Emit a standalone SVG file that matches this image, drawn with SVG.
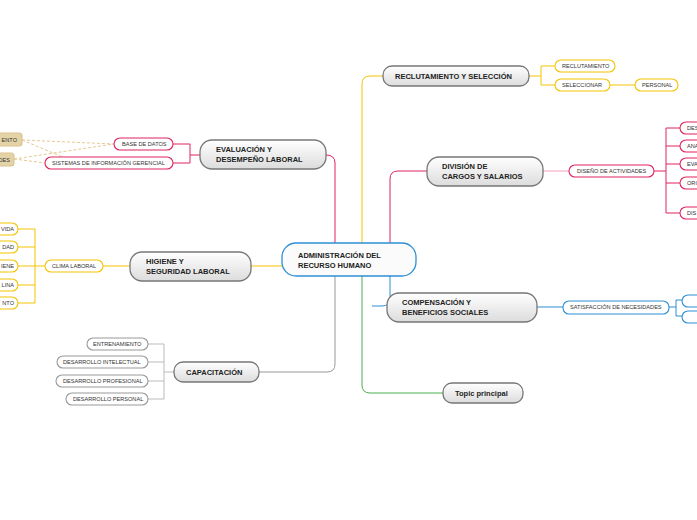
<svg xmlns="http://www.w3.org/2000/svg" width="697" height="520" viewBox="0 0 697 520">
<defs>
<linearGradient id="g" x1="0" y1="0" x2="0" y2="1"><stop offset="0" stop-color="#ffffff"/><stop offset="1" stop-color="#dcdcdc"/></linearGradient>
</defs>
<style>
text{font-family:"Liberation Sans",Arial,sans-serif;fill:#222}
.m rect{fill:url(#g);stroke:#777;stroke-width:1.3}
.m text{font-size:7.5px;font-weight:bold}
.s rect{fill:#fff;stroke-width:1.1}
.s text{font-size:5.6px;fill:#333}
.y rect{stroke:#f5c400}.p rect{stroke:#e0245e}.b rect{stroke:#2d8fd5}.k rect{stroke:#999}
.t rect{fill:#e5d3a8;stroke:#d9c38e}
.c path{fill:none;stroke-width:1}
</style>
<rect width="697" height="520" fill="#fff"/>
<g id="connectors" class="c">
<path d="M362 243 V84 Q362 76 370 76 H383" stroke="#f5c400" stroke-width="1.6"/>
<path d="M390 243 V179 Q390 171 398 171 H427" stroke="#e0245e" stroke-width="1.6"/>
<path d="M390 276 V298 Q390 306 382 306 H372 M390 306 H387" stroke="#2d8fd5" stroke-width="1.6"/>
<path d="M362 276 V385 Q362 393 370 393 H443" stroke="#4caf50" stroke-width="1.6"/>
<path d="M335 243 V163 Q335 155 326 155" stroke="#e0245e" stroke-width="2.2"/>
<path d="M282 266 H251" stroke="#f5c400" stroke-width="1.2"/>
<path d="M335 276 V364 Q335 372 327 372 H259" stroke="#999" stroke-width="2.2"/>
<path d="M529 76 H541 M541 66 V85 M541 66 H555 M541 85 H555 M610 85 H635" stroke="#f5c400"/>
<path d="M543 171 H569" stroke="#f3a0b8"/>
<path d="M654 171 H666 M666 128 V213 M666 128 H680 M666 146 H680 M666 164 H680 M666 183 H680 M666 213 H680" stroke="#e0245e"/>
<path d="M537 307 H563" stroke="#2d8fd5"/>
<path d="M669 307 H676 M676 300 V316 M676 300 H697 M676 316 H697" stroke="#2d8fd5"/>
<path d="M200 155 H190 M190 144 V163 M190 144 H173 M190 163 H173" stroke="#e0245e"/>
<path d="M22 140 L114 144 M14 159 L45 163 M22 140 L65 158 M14 159 L114 144" stroke="#e5c98f" stroke-dasharray="3,2"/>
<path d="M130 266 H103" stroke="#f5c400"/>
<path d="M45 266 H35 M35 229 V303 M35 229 H18 M35 247 H18 M35 266 H18 M35 285 H18 M35 303 H18" stroke="#f5c400"/>
<path d="M174 372 H164 M164 344 V399 M164 344 H148 M164 362 H148 M164 381 H148 M164 399 H148" stroke="#bbb"/>
</g>
<g id="center"><rect x="282" y="243" width="134" height="33" rx="14" fill="#fbfbfb" stroke="#2d8fd5" stroke-width="1.3"/><text x="298" y="258" font-size="7.5" font-weight="bold">ADMINISTRACIÓN DEL</text><text x="298" y="268" font-size="7.5" font-weight="bold">RECURSO HUMANO</text></g>
<g id="reclut" class="m"><rect x="383" y="66" width="146" height="20" rx="9"/><text x="395" y="79">RECLUTAMIENTO Y SELECCIÓN</text></g>
<g id="division" class="m"><rect x="427" y="157" width="116" height="29" rx="12"/><text x="442" y="169">DIVISIÓN DE</text><text x="442" y="179">CARGOS Y SALARIOS</text></g>
<g id="compens" class="m"><rect x="387" y="293" width="150" height="29" rx="12"/><text x="402" y="305">COMPENSACIÓN Y</text><text x="402" y="315">BENEFICIOS SOCIALES</text></g>
<g id="topic" class="m"><rect x="443" y="383" width="80" height="20" rx="9"/><text x="455" y="396">Topic principal</text></g>
<g id="evalua" class="m"><rect x="200" y="140" width="126" height="29" rx="12"/><text x="216" y="152">EVALUACIÓN Y</text><text x="216" y="162">DESEMPEÑO LABORAL</text></g>
<g id="higiene" class="m"><rect x="130" y="252" width="121" height="29" rx="12"/><text x="146" y="264">HIGIENE Y</text><text x="146" y="274">SEGURIDAD LABORAL</text></g>
<g id="capac" class="m"><rect x="174" y="362" width="85" height="20" rx="9"/><text x="186" y="375">CAPACITACIÓN</text></g>
<g id="s1" class="s y"><rect x="555" y="60" width="60" height="12" rx="6"/><text x="562" y="68">RECLUTAMIENTO</text></g>
<g id="s2" class="s y"><rect x="555" y="79" width="55" height="12" rx="6"/><text x="562" y="87">SELECCIONAR</text></g>
<g id="s3" class="s y"><rect x="635" y="79" width="43" height="12" rx="6"/><text x="642" y="87">PERSONAL</text></g>
<g id="s4" class="s p"><rect x="569" y="165" width="85" height="12" rx="6"/><text x="577" y="173">DISEÑO DE ACTIVIDADES</text></g>
<g id="s5" class="s p"><rect x="680" y="122" width="40" height="12" rx="6"/><text x="687" y="130">DES</text></g>
<g id="s6" class="s p"><rect x="680" y="140" width="40" height="12" rx="6"/><text x="687" y="148">ANA</text></g>
<g id="s7" class="s p"><rect x="680" y="158" width="40" height="12" rx="6"/><text x="687" y="166">EVA</text></g>
<g id="s8" class="s p"><rect x="680" y="177" width="40" height="12" rx="6"/><text x="687" y="185">ORG</text></g>
<g id="s9" class="s p"><rect x="680" y="207" width="40" height="12" rx="6"/><text x="687" y="215">DIS</text></g>
<g id="s10" class="s b"><rect x="563" y="301" width="106" height="13" rx="6"/><text x="570" y="309">SATISFACCIÓN DE NECESIDADES</text></g>
<g id="s11" class="s b"><rect x="682" y="295" width="40" height="12" rx="6"/></g>
<g id="s12" class="s b"><rect x="682" y="311" width="40" height="12" rx="6"/></g>
<g id="s13" class="s p"><rect x="114" y="138" width="59" height="12" rx="6"/><text x="122" y="146">BASE DE DATOS</text></g>
<g id="s14" class="s p"><rect x="45" y="157" width="128" height="12" rx="6"/><text x="52" y="165">SISTEMAS DE INFORMACIÓN GERENCIAL</text></g>
<g id="t1" class="s t"><rect x="-20" y="133" width="42" height="13" rx="3"/><text x="17" y="142" text-anchor="end">ENTO</text></g>
<g id="t2" class="s t"><rect x="-15" y="153" width="29" height="13" rx="3"/><text x="10" y="162" text-anchor="end">DES</text></g>
<g id="s15" class="s y"><rect x="45" y="260" width="58" height="12" rx="6"/><text x="52" y="268">CLIMA LABORAL</text></g>
<g id="s16" class="s y"><rect x="-40" y="223" width="58" height="12" rx="6"/><text x="14" y="231" text-anchor="end">VIDA</text></g>
<g id="s17" class="s y"><rect x="-40" y="241" width="58" height="12" rx="6"/><text x="14" y="249" text-anchor="end">DAD</text></g>
<g id="s18" class="s y"><rect x="-40" y="260" width="58" height="12" rx="6"/><text x="14" y="268" text-anchor="end">IENE</text></g>
<g id="s19" class="s y"><rect x="-40" y="279" width="58" height="12" rx="6"/><text x="14" y="287" text-anchor="end">LINA</text></g>
<g id="s20" class="s y"><rect x="-40" y="297" width="58" height="12" rx="6"/><text x="14" y="305" text-anchor="end">NTO</text></g>
<g id="s21" class="s k"><rect x="87" y="338" width="61" height="12" rx="6"/><text x="93" y="346">ENTRENAMIENTO</text></g>
<g id="s22" class="s k"><rect x="57" y="356" width="91" height="12" rx="6"/><text x="63" y="364">DESARROLLO INTELECTUAL</text></g>
<g id="s23" class="s k"><rect x="56" y="375" width="92" height="12" rx="6"/><text x="63" y="383">DESARROLLO PROFESIONAL</text></g>
<g id="s24" class="s k"><rect x="66" y="393" width="82" height="12" rx="6"/><text x="73" y="401">DESARROLLO PERSONAL</text></g>
</svg>
